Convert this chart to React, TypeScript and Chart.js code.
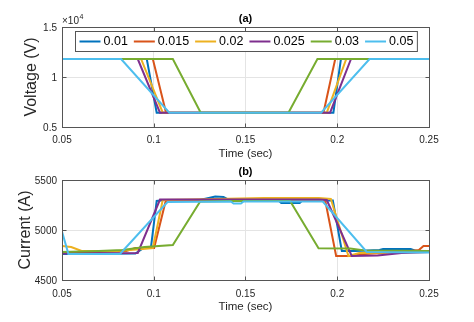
import React, { useEffect, useRef } from 'react';
import { Chart, registerables } from 'chart.js';
Chart.register(...registerables);

const seriesLabels = ['0.01', '0.015', '0.02', '0.025', '0.03', '0.05'];
const seriesColors = ['#0072BD', '#D95319', '#EDB120', '#7E2F8E', '#77AC30', '#4DBEEE'];

const xTicks = [0.05, 0.1, 0.15, 0.2, 0.25];
const voltageTicks = [5000, 10000, 15000];
const currentTicks = [4500, 5000, 5500];

// ---- Voltage (V) ----
const vT001 = [0.05, 0.0962, 0.1016, 0.1979, 0.202, 0.25];
const vV001 = [11800, 11800, 6430, 6430, 11800, 11800];
const vT0015 = [0.05, 0.0995, 0.1067, 0.1925, 0.1989, 0.25];
const vV0015 = [11800, 11800, 6430, 6430, 11800, 11800];
const vT002 = [0.05, 0.0931, 0.1049, 0.1943, 0.2049, 0.25];
const vV002 = [11800, 11800, 6430, 6430, 11800, 11800];
const vT0025 = [0.05, 0.0913, 0.1034, 0.1961, 0.2075, 0.25];
const vV0025 = [11800, 11800, 6430, 6430, 11800, 11800];
const vT003 = [0.05, 0.1104, 0.1256, 0.1734, 0.1892, 0.25];
const vV003 = [11800, 11800, 6430, 6430, 11800, 11800];
const vT005 = [0.05, 0.0822, 0.1085, 0.1912, 0.2176, 0.25];
const vV005 = [11800, 11800, 6430, 6430, 11800, 11800];

// ---- Current (A) ----
const iT001 = [0.05, 0.09, 0.0953, 0.0985, 0.1016, 0.106, 0.125, 0.13, 0.1335, 0.138, 0.141, 0.15, 0.168, 0.1695, 0.1795, 0.181, 0.1976, 0.2025, 0.21, 0.223, 0.225, 0.24, 0.243, 0.25];
const iV001 = [4760, 4765, 4830, 4830, 5290, 5300, 5300, 5320, 5335, 5330, 5300, 5295, 5295, 5270, 5270, 5295, 5295, 4790, 4790, 4800, 4810, 4810, 4790, 4790];
const iT0015 = [0.05, 0.07, 0.085, 0.09, 0.1002, 0.1065, 0.12, 0.19, 0.1934, 0.1994, 0.207, 0.215, 0.225, 0.24, 0.2445, 0.247, 0.25];
const iV0015 = [4770, 4780, 4790, 4820, 4820, 5290, 5295, 5300, 5300, 4740, 4740, 4760, 4770, 4790, 4800, 4840, 4840];
const iT002 = [0.05, 0.055, 0.0607, 0.08, 0.094, 0.0995, 0.1049, 0.12, 0.16, 0.19, 0.1965, 0.2061, 0.212, 0.25];
const iV002 = [4840, 4830, 4790, 4790, 4810, 4820, 5300, 5305, 5320, 5320, 5310, 4740, 4770, 4780];
const iT0025 = [0.05, 0.0913, 0.1034, 0.12, 0.19, 0.1943, 0.2079, 0.222, 0.235, 0.25];
const iV0025 = [4765, 4770, 5305, 5305, 5305, 5300, 4740, 4745, 4770, 4780];
const iT003 = [0.05, 0.07, 0.083, 0.095, 0.1104, 0.1253, 0.14, 0.1743, 0.1898, 0.207, 0.215, 0.25];
const iV003 = [4780, 4790, 4800, 4830, 4850, 5285, 5290, 5290, 4817, 4815, 4795, 4790];
const iT005 = [0.05, 0.0535, 0.0816, 0.1075, 0.142, 0.1435, 0.1475, 0.149, 0.1921, 0.2161, 0.25];
const iV005 = [4985, 4760, 4760, 5280, 5285, 5265, 5265, 5285, 5285, 4780, 4775];

const voltageT = [vT001, vT0015, vT002, vT0025, vT003, vT005];
const voltageV = [vV001, vV0015, vV002, vV0025, vV003, vV005];
const currentT = [iT001, iT0015, iT002, iT0025, iT003, iT005];
const currentV = [iV001, iV0015, iV002, iV0025, iV003, iV005];

const FONT = "'Liberation Sans', Arial, Helvetica, sans-serif";
const TEXT = '#262626';
const AXIS = '#555555';
const GRID = '#e4e4e4';

const fmt = (v: number) => String(Number(v.toFixed(3)));

function makeDecor(o: { title: string; legend: boolean; exponent: boolean; yTicks: number[] }) {
  return {
    id: 'decor',
    afterDraw(chart: any) {
      const { ctx, chartArea: a, scales } = chart;
      const xs = scales.x;
      const ys = scales.y;
      ctx.save();
      const L = Math.round(a.left) + 0.5;
      const R = Math.round(a.right) + 0.5;
      const T = Math.round(a.top) + 0.5;
      const B = Math.round(a.bottom) + 0.5;
      ctx.strokeStyle = AXIS;
      ctx.lineWidth = 1;
      ctx.strokeRect(L, T, R - L, B - T);
      const tl = 4;
      ctx.beginPath();
      for (const v of xTicks) {
        const px = Math.round(xs.getPixelForValue(v)) + 0.5;
        ctx.moveTo(px, B); ctx.lineTo(px, B - tl);
        ctx.moveTo(px, T); ctx.lineTo(px, T + tl);
      }
      for (const v of o.yTicks) {
        const py = Math.round(ys.getPixelForValue(v)) + 0.5;
        ctx.moveTo(L, py); ctx.lineTo(L + tl, py);
        ctx.moveTo(R, py); ctx.lineTo(R - tl, py);
      }
      ctx.stroke();

      // title
      ctx.fillStyle = '#000';
      ctx.font = `bold 11px ${FONT}`;
      ctx.textAlign = 'center';
      ctx.textBaseline = 'middle';
      ctx.fillText(o.title, (a.left + a.right) / 2, a.top - 8.5);

      if (o.exponent) {
        ctx.fillStyle = TEXT;
        ctx.textAlign = 'left';
        ctx.font = `10px ${FONT}`;
        ctx.fillText('\u00d710', a.left, a.top - 5.5);
        const w = ctx.measureText('\u00d710').width;
        ctx.font = `7px ${FONT}`;
        ctx.fillText('4', a.left + w + 0.5, a.top - 9.5);
      }

      if (o.legend) {
        ctx.font = `12.5px ${FONT}`;
        const lineLen = 21;
        const gapLT = 3;
        const gap = 6;
        const pad = 4;
        const widths = seriesLabels.map((s) => ctx.measureText(s).width);
        let total = pad * 2 + gap * (seriesLabels.length - 1);
        widths.forEach((w) => (total += lineLen + gapLT + w));
        const cx = (a.left + a.right) / 2;
        const bx = Math.round(cx - total / 2) + 0.5;
        const by = Math.round(a.top + 3.5) + 0.5;
        const bh = 20;
        ctx.fillStyle = '#fff';
        ctx.fillRect(bx, by, total, bh);
        ctx.strokeStyle = AXIS;
        ctx.lineWidth = 1;
        ctx.strokeRect(bx, by, total, bh);
        let x = bx + pad;
        const my = by + bh / 2;
        seriesLabels.forEach((s, i) => {
          ctx.strokeStyle = seriesColors[i];
          ctx.lineWidth = 2;
          ctx.beginPath();
          ctx.moveTo(x, my);
          ctx.lineTo(x + lineLen, my);
          ctx.stroke();
          x += lineLen + gapLT;
          ctx.fillStyle = '#000';
          ctx.textAlign = 'left';
          ctx.textBaseline = 'middle';
          ctx.fillText(s, x, my + 0.5);
          x += widths[i] + gap;
        });
      }
      ctx.restore();
    },
  };
}

function buildChart(
  canvas: HTMLCanvasElement,
  ts: number[][],
  vs: number[][],
  yTicks: number[],
  yTitle: string,
  yLabel: (v: number) => string,
  cfg: { top: number; xH: number; xTickPad: number; xTitlePad: number; yTitlePad: number; title: string; legend: boolean; exponent: boolean }
) {
  return new Chart(canvas, {
    type: 'line',
    data: {
      datasets: ts.map((t, i) => ({
        label: seriesLabels[i],
        data: t.map((x, j) => ({ x, y: vs[i][j] })),
        borderColor: seriesColors[i],
        backgroundColor: seriesColors[i],
        borderWidth: 2,
        pointRadius: 0,
        fill: false,
        tension: 0,
        order: ts.length - 1 - i,
      })),
    },
    options: {
      animation: false,
      responsive: false,
      devicePixelRatio: 1,
      layout: { padding: { left: 0, right: 45, top: cfg.top, bottom: 0 } },
      plugins: { legend: { display: false }, tooltip: { enabled: false }, title: { display: false } },
      scales: {
        x: {
          type: 'linear',
          min: xTicks[0],
          max: xTicks[xTicks.length - 1],
          afterBuildTicks: (s: any) => { s.ticks = xTicks.map((v) => ({ value: v })); },
          afterFit: (s: any) => { s.height = cfg.xH; },
          ticks: { callback: (v: any) => fmt(Number(v)), color: TEXT, font: { family: FONT, size: 10 }, padding: cfg.xTickPad, maxRotation: 0, autoSkip: false },
          grid: { color: GRID, drawTicks: false, lineWidth: 1 },
          border: { display: false },
          title: { display: true, text: 'Time (sec)', color: TEXT, font: { family: FONT, size: 11.5 }, padding: { top: 0, bottom: cfg.xTitlePad } },
        },
        y: {
          type: 'linear',
          min: yTicks[0],
          max: yTicks[yTicks.length - 1],
          afterBuildTicks: (s: any) => { s.ticks = yTicks.map((v) => ({ value: v })); },
          afterFit: (s: any) => { s.width = 62; },
          ticks: { callback: (v: any) => yLabel(Number(v)), color: TEXT, font: { family: FONT, size: 10 }, padding: 5, autoSkip: false, labelOffset: 1.5 },
          grid: { color: GRID, drawTicks: false, lineWidth: 1 },
          border: { display: false },
          title: { display: true, text: yTitle, color: TEXT, font: { family: FONT, size: 16 }, padding: { top: cfg.yTitlePad, bottom: 0 } },
        },
      },
    } as any,
    plugins: [makeDecor({ title: cfg.title, legend: cfg.legend, exponent: cfg.exponent, yTicks })],
  });
}

export default function App() {
  const c1 = useRef<HTMLCanvasElement>(null);
  const c2 = useRef<HTMLCanvasElement>(null);
  useEffect(() => {
    const ch1 = buildChart(c1.current!, voltageT, voltageV, voltageTicks, 'Voltage (V)', (v) => fmt(v / 10000), {
      top: 27, xH: 34, xTickPad: 7, xTitlePad: 0.5, yTitlePad: 22, title: '(a)', legend: true, exponent: true,
    });
    const ch2 = buildChart(c2.current!, currentT, currentV, currentTicks, 'Current (A)', (v) => String(v), {
      top: 19, xH: 42, xTickPad: 8, xTitlePad: 8.5, yTitlePad: 15.5, title: '(b)', legend: false, exponent: false,
    });
    return () => { ch1.destroy(); ch2.destroy(); };
  }, []);
  return (
    <div style={{ position: 'absolute', left: 0, top: 0, width: 474, height: 322, background: '#fff' }}>
      <canvas ref={c1} width={474} height={161} style={{ position: 'absolute', left: 0, top: 0, width: 474, height: 161 }} />
      <canvas ref={c2} width={474} height={161} style={{ position: 'absolute', left: 0, top: 161, width: 474, height: 161 }} />
    </div>
  );
}
